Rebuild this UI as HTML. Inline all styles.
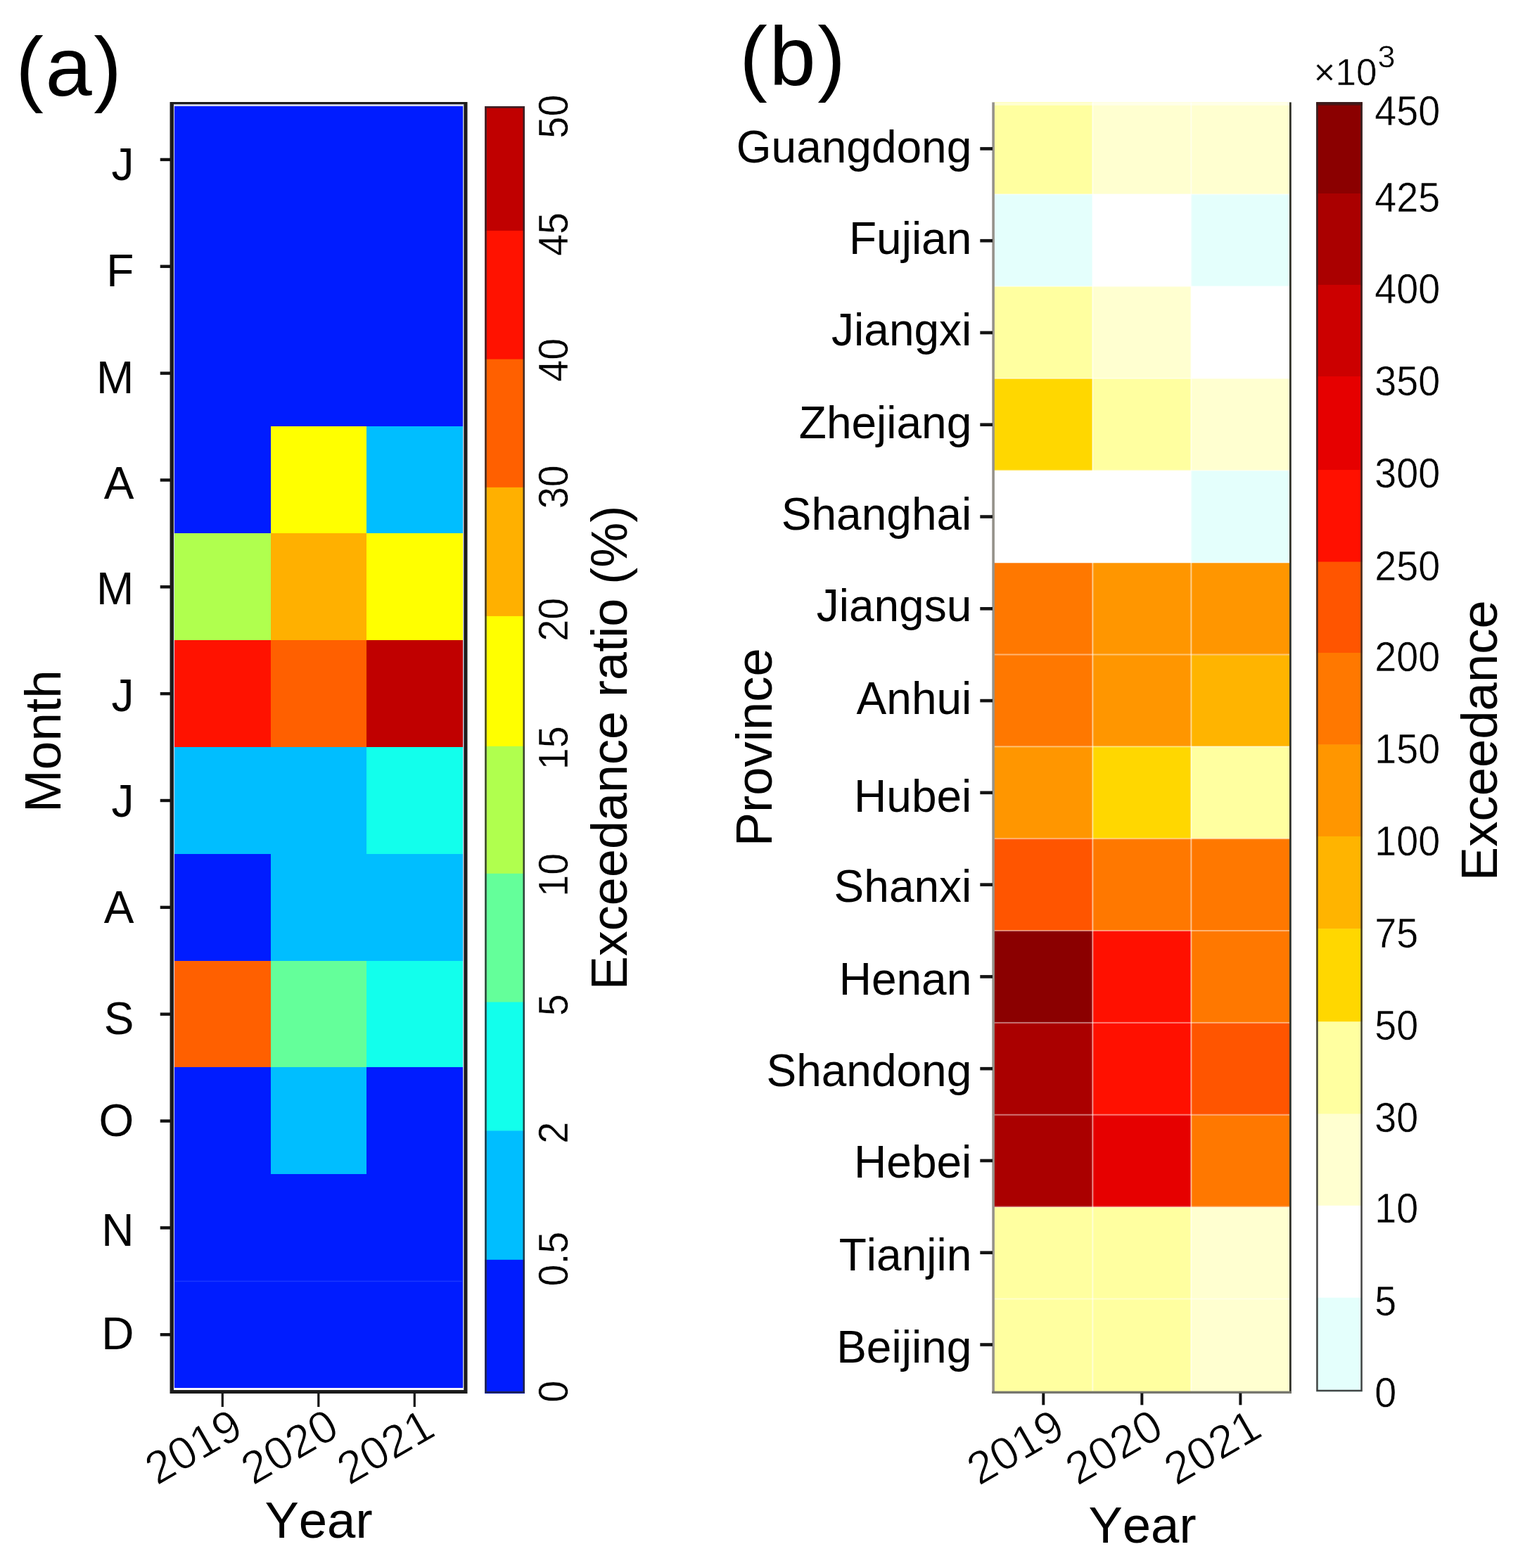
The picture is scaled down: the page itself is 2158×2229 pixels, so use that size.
<!DOCTYPE html>
<html lang="en">
<head>
<meta charset="utf-8">
<title>Exceedance heatmaps</title>
<style>
html, body { margin: 0; padding: 0; background: #ffffff; }
body { width: 2158px; height: 2229px; overflow: hidden; }
svg { display: block; }
svg text { font-family: "Liberation Sans", sans-serif; fill: #000000; font-kerning: none; paint-order: fill stroke; }
svg text.tk { stroke: #ffffff; stroke-width: 0.5px; }
svg text.xt { stroke: #ffffff; stroke-width: 1px; }
</style>
</head>
<body>
<svg width="2158" height="2229" viewBox="0 0 2158 2229">
<rect x="0" y="0" width="2158" height="2229" fill="#ffffff"/>
<g id="panel-a">
<rect x="241.50" y="145.00" width="423.00" height="1836.00" fill="#1c1c1c" />
<rect x="246.90" y="148.20" width="412.50" height="1827.80" fill="#d4d8ee" />
<rect x="247.50" y="1972.00" width="411.50" height="4.00" fill="#f7f8ff" />
<g shape-rendering="crispEdges">
<rect x="248.30" y="150.90" width="136.73" height="152.33" fill="#001cff" />
<rect x="384.53" y="150.90" width="136.73" height="152.33" fill="#001cff" />
<rect x="520.77" y="150.90" width="136.73" height="152.33" fill="#001cff" />
<rect x="248.30" y="302.73" width="136.73" height="152.33" fill="#001cff" />
<rect x="384.53" y="302.73" width="136.73" height="152.33" fill="#001cff" />
<rect x="520.77" y="302.73" width="136.73" height="152.33" fill="#001cff" />
<rect x="248.30" y="454.57" width="136.73" height="152.33" fill="#001cff" />
<rect x="384.53" y="454.57" width="136.73" height="152.33" fill="#001cff" />
<rect x="520.77" y="454.57" width="136.73" height="152.33" fill="#001cff" />
<rect x="248.30" y="606.40" width="136.73" height="152.33" fill="#001cff" />
<rect x="384.53" y="606.40" width="136.73" height="152.33" fill="#ffff00" />
<rect x="520.77" y="606.40" width="136.73" height="152.33" fill="#00beff" />
<rect x="248.30" y="758.23" width="136.73" height="152.33" fill="#b0ff4e" />
<rect x="384.53" y="758.23" width="136.73" height="152.33" fill="#ffb000" />
<rect x="520.77" y="758.23" width="136.73" height="152.33" fill="#ffff00" />
<rect x="248.30" y="910.07" width="136.73" height="152.33" fill="#ff1200" />
<rect x="384.53" y="910.07" width="136.73" height="152.33" fill="#ff6000" />
<rect x="520.77" y="910.07" width="136.73" height="152.33" fill="#c00000" />
<rect x="248.30" y="1061.90" width="136.73" height="152.33" fill="#00beff" />
<rect x="384.53" y="1061.90" width="136.73" height="152.33" fill="#00beff" />
<rect x="520.77" y="1061.90" width="136.73" height="152.33" fill="#12ffec" />
<rect x="248.30" y="1213.73" width="136.73" height="152.33" fill="#001cff" />
<rect x="384.53" y="1213.73" width="136.73" height="152.33" fill="#00beff" />
<rect x="520.77" y="1213.73" width="136.73" height="152.33" fill="#00beff" />
<rect x="248.30" y="1365.57" width="136.73" height="152.33" fill="#ff6000" />
<rect x="384.53" y="1365.57" width="136.73" height="152.33" fill="#64ff9a" />
<rect x="520.77" y="1365.57" width="136.73" height="152.33" fill="#12ffec" />
<rect x="248.30" y="1517.40" width="136.73" height="152.33" fill="#001cff" />
<rect x="384.53" y="1517.40" width="136.73" height="152.33" fill="#00beff" />
<rect x="520.77" y="1517.40" width="136.73" height="152.33" fill="#001cff" />
<rect x="248.30" y="1669.23" width="136.73" height="152.33" fill="#001cff" />
<rect x="384.53" y="1669.23" width="136.73" height="152.33" fill="#001cff" />
<rect x="520.77" y="1669.23" width="136.73" height="152.33" fill="#001cff" />
<rect x="248.30" y="1821.07" width="136.73" height="152.33" fill="#001cff" />
<rect x="384.53" y="1821.07" width="136.73" height="152.33" fill="#001cff" />
<rect x="520.77" y="1821.07" width="136.73" height="152.33" fill="#001cff" />
</g>
<rect x="248.30" y="1820.60" width="408.70" height="1.60" fill="#4a63ff" fill-opacity="0.35"/>
<rect x="227.70" y="224.70" width="14.30" height="4.40" fill="#111" />
<text x="190.40" y="255.50" font-size="64" text-anchor="end" >J</text>
<rect x="227.70" y="376.55" width="14.30" height="4.40" fill="#111" />
<text x="190.40" y="406.80" font-size="64" text-anchor="end" >F</text>
<rect x="227.70" y="528.40" width="14.30" height="4.40" fill="#111" />
<text x="190.40" y="559.30" font-size="64" text-anchor="end" >M</text>
<rect x="227.70" y="680.25" width="14.30" height="4.40" fill="#111" />
<text x="190.40" y="709.40" font-size="64" text-anchor="end" >A</text>
<rect x="227.70" y="832.10" width="14.30" height="4.40" fill="#111" />
<text x="190.40" y="859.40" font-size="64" text-anchor="end" >M</text>
<rect x="227.70" y="983.95" width="14.30" height="4.40" fill="#111" />
<text x="190.40" y="1011.20" font-size="64" text-anchor="end" >J</text>
<rect x="227.70" y="1135.80" width="14.30" height="4.40" fill="#111" />
<text x="190.40" y="1161.40" font-size="64" text-anchor="end" >J</text>
<rect x="227.70" y="1287.65" width="14.30" height="4.40" fill="#111" />
<text x="190.40" y="1312.30" font-size="64" text-anchor="end" >A</text>
<rect x="227.70" y="1439.50" width="14.30" height="4.40" fill="#111" />
<text x="190.40" y="1469.50" font-size="64" text-anchor="end" >S</text>
<rect x="227.70" y="1591.35" width="14.30" height="4.40" fill="#111" />
<text x="190.40" y="1615.00" font-size="64" text-anchor="end" >O</text>
<rect x="227.70" y="1743.20" width="14.30" height="4.40" fill="#111" />
<text x="190.40" y="1770.70" font-size="64" text-anchor="end" >N</text>
<rect x="227.70" y="1895.05" width="14.30" height="4.40" fill="#111" />
<text x="190.40" y="1917.80" font-size="64" text-anchor="end" >D</text>
<rect x="314.70" y="1980.50" width="3.20" height="19.50" fill="#111" />
<text x="348.90" y="2039.70" font-size="65.2" text-anchor="end" transform="rotate(-30 348.90 2039.70)" class="xt">2019</text>
<rect x="451.20" y="1980.50" width="3.20" height="19.50" fill="#111" />
<text x="485.40" y="2039.70" font-size="65.2" text-anchor="end" transform="rotate(-30 485.40 2039.70)" class="xt">2020</text>
<rect x="587.70" y="1980.50" width="3.20" height="19.50" fill="#111" />
<text x="621.90" y="2039.70" font-size="65.2" text-anchor="end" transform="rotate(-30 621.90 2039.70)" class="xt">2021</text>
<text x="453.00" y="2186.40" font-size="72.5" text-anchor="middle" >Year</text>
<text x="86.00" y="1053.50" font-size="73" text-anchor="middle" transform="rotate(-90 86.00 1053.50)" >Month</text>
<text x="22.20" y="135.50" font-size="119" text-anchor="start" letter-spacing="2.6">(a)</text>
<rect x="689.20" y="151.00" width="56.80" height="177.40" fill="#c00000" />
<rect x="689.20" y="327.90" width="56.80" height="183.20" fill="#ff1200" />
<rect x="689.20" y="510.60" width="56.80" height="182.70" fill="#ff6000" />
<rect x="689.20" y="692.80" width="56.80" height="183.60" fill="#ffb000" />
<rect x="689.20" y="875.90" width="56.80" height="185.40" fill="#ffff00" />
<rect x="689.20" y="1060.80" width="56.80" height="181.50" fill="#b0ff4e" />
<rect x="689.20" y="1241.80" width="56.80" height="183.20" fill="#64ff9a" />
<rect x="689.20" y="1424.50" width="56.80" height="183.40" fill="#12ffec" />
<rect x="689.20" y="1607.40" width="56.80" height="183.90" fill="#00beff" />
<rect x="689.20" y="1790.80" width="56.80" height="190.20" fill="#001cff" />
<rect x="690.50" y="152.30" width="54.20" height="1826.90" fill="none" stroke="#26262c" stroke-opacity="0.85" stroke-width="2.6"/>
<text x="806.60" y="165.60" font-size="59.6" text-anchor="middle" transform="rotate(-90 806.60 165.60)" class="tk" textLength="62.1" lengthAdjust="spacingAndGlyphs">50</text>
<text x="806.60" y="333.00" font-size="59.6" text-anchor="middle" transform="rotate(-90 806.60 333.00)" class="tk" textLength="62.1" lengthAdjust="spacingAndGlyphs">45</text>
<text x="806.60" y="511.80" font-size="59.6" text-anchor="middle" transform="rotate(-90 806.60 511.80)" class="tk" textLength="62.1" lengthAdjust="spacingAndGlyphs">40</text>
<text x="806.60" y="692.30" font-size="59.6" text-anchor="middle" transform="rotate(-90 806.60 692.30)" class="tk" textLength="62.1" lengthAdjust="spacingAndGlyphs">30</text>
<text x="806.60" y="880.80" font-size="59.6" text-anchor="middle" transform="rotate(-90 806.60 880.80)" class="tk" textLength="62.1" lengthAdjust="spacingAndGlyphs">20</text>
<text x="806.60" y="1063.30" font-size="59.6" text-anchor="middle" transform="rotate(-90 806.60 1063.30)" class="tk" textLength="62.1" lengthAdjust="spacingAndGlyphs">15</text>
<text x="806.60" y="1243.80" font-size="59.6" text-anchor="middle" transform="rotate(-90 806.60 1243.80)" class="tk" textLength="62.1" lengthAdjust="spacingAndGlyphs">10</text>
<text x="806.60" y="1428.80" font-size="59.6" text-anchor="middle" transform="rotate(-90 806.60 1428.80)" class="tk" textLength="31.1" lengthAdjust="spacingAndGlyphs">5</text>
<text x="806.60" y="1610.10" font-size="59.6" text-anchor="middle" transform="rotate(-90 806.60 1610.10)" class="tk" textLength="31.1" lengthAdjust="spacingAndGlyphs">2</text>
<text x="806.60" y="1789.60" font-size="59.6" text-anchor="middle" transform="rotate(-90 806.60 1789.60)" class="tk" textLength="77.6" lengthAdjust="spacingAndGlyphs">0.5</text>
<text x="806.60" y="1978.10" font-size="59.6" text-anchor="middle" transform="rotate(-90 806.60 1978.10)" class="tk" textLength="31.1" lengthAdjust="spacingAndGlyphs">0</text>
<text x="890.90" y="1063.00" font-size="72" text-anchor="middle" transform="rotate(-90 890.90 1063.00)" >Exceedance ratio (%)</text>
</g>
<g id="panel-b">
<g shape-rendering="crispEdges">
<rect x="1413.30" y="145.40" width="140.53" height="131.35" fill="#ffffa0" />
<rect x="1553.33" y="145.40" width="140.53" height="131.35" fill="#ffffd0" />
<rect x="1693.37" y="145.40" width="140.53" height="131.35" fill="#ffffd0" />
<rect x="1413.30" y="276.25" width="140.53" height="131.35" fill="#e4fffc" />
<rect x="1553.33" y="276.25" width="140.53" height="131.35" fill="#ffffff" />
<rect x="1693.37" y="276.25" width="140.53" height="131.35" fill="#e4fffc" />
<rect x="1413.30" y="407.10" width="140.53" height="131.35" fill="#ffffa0" />
<rect x="1553.33" y="407.10" width="140.53" height="131.35" fill="#ffffd0" />
<rect x="1693.37" y="407.10" width="140.53" height="131.35" fill="#ffffff" />
<rect x="1413.30" y="537.95" width="140.53" height="131.35" fill="#ffd700" />
<rect x="1553.33" y="537.95" width="140.53" height="131.35" fill="#ffffa0" />
<rect x="1693.37" y="537.95" width="140.53" height="131.35" fill="#ffffd0" />
<rect x="1413.30" y="668.80" width="140.53" height="131.35" fill="#ffffff" />
<rect x="1553.33" y="668.80" width="140.53" height="131.35" fill="#ffffff" />
<rect x="1693.37" y="668.80" width="140.53" height="131.35" fill="#e4fffc" />
<rect x="1413.30" y="799.65" width="140.53" height="131.35" fill="#ff7800" />
<rect x="1553.33" y="799.65" width="140.53" height="131.35" fill="#ff9600" />
<rect x="1693.37" y="799.65" width="140.53" height="131.35" fill="#ff9600" />
<rect x="1413.30" y="930.50" width="140.53" height="131.35" fill="#ff7800" />
<rect x="1553.33" y="930.50" width="140.53" height="131.35" fill="#ff9600" />
<rect x="1693.37" y="930.50" width="140.53" height="131.35" fill="#ffb400" />
<rect x="1413.30" y="1061.35" width="140.53" height="131.35" fill="#ff9600" />
<rect x="1553.33" y="1061.35" width="140.53" height="131.35" fill="#ffd700" />
<rect x="1693.37" y="1061.35" width="140.53" height="131.35" fill="#ffffa0" />
<rect x="1413.30" y="1192.20" width="140.53" height="131.35" fill="#ff5500" />
<rect x="1553.33" y="1192.20" width="140.53" height="131.35" fill="#ff7800" />
<rect x="1693.37" y="1192.20" width="140.53" height="131.35" fill="#ff7800" />
<rect x="1413.30" y="1323.05" width="140.53" height="131.35" fill="#8b0000" />
<rect x="1553.33" y="1323.05" width="140.53" height="131.35" fill="#ff1000" />
<rect x="1693.37" y="1323.05" width="140.53" height="131.35" fill="#ff7800" />
<rect x="1413.30" y="1453.90" width="140.53" height="131.35" fill="#aa0000" />
<rect x="1553.33" y="1453.90" width="140.53" height="131.35" fill="#ff1000" />
<rect x="1693.37" y="1453.90" width="140.53" height="131.35" fill="#ff5500" />
<rect x="1413.30" y="1584.75" width="140.53" height="131.35" fill="#aa0000" />
<rect x="1553.33" y="1584.75" width="140.53" height="131.35" fill="#e60000" />
<rect x="1693.37" y="1584.75" width="140.53" height="131.35" fill="#ff7800" />
<rect x="1413.30" y="1715.60" width="140.53" height="131.35" fill="#ffffa0" />
<rect x="1553.33" y="1715.60" width="140.53" height="131.35" fill="#ffffa0" />
<rect x="1693.37" y="1715.60" width="140.53" height="131.35" fill="#ffffd0" />
<rect x="1413.30" y="1846.45" width="140.53" height="131.35" fill="#ffffa0" />
<rect x="1553.33" y="1846.45" width="140.53" height="131.35" fill="#ffffa0" />
<rect x="1693.37" y="1846.45" width="140.53" height="131.35" fill="#ffffd0" />
</g>
<rect x="1552.33" y="145.40" width="2.00" height="1831.90" fill="#ffffff" fill-opacity="0.55"/>
<rect x="1692.37" y="145.40" width="2.00" height="1831.90" fill="#ffffff" fill-opacity="0.55"/>
<rect x="1413.30" y="275.25" width="420.10" height="2.00" fill="#ffffff" fill-opacity="0.45"/>
<rect x="1413.30" y="406.10" width="420.10" height="2.00" fill="#ffffff" fill-opacity="0.45"/>
<rect x="1413.30" y="536.95" width="420.10" height="2.00" fill="#ffffff" fill-opacity="0.45"/>
<rect x="1413.30" y="667.80" width="420.10" height="2.00" fill="#ffffff" fill-opacity="0.45"/>
<rect x="1413.30" y="798.65" width="420.10" height="2.00" fill="#ffffff" fill-opacity="0.45"/>
<rect x="1413.30" y="929.50" width="420.10" height="2.00" fill="#ffffff" fill-opacity="0.45"/>
<rect x="1413.30" y="1060.35" width="420.10" height="2.00" fill="#ffffff" fill-opacity="0.45"/>
<rect x="1413.30" y="1191.20" width="420.10" height="2.00" fill="#ffffff" fill-opacity="0.45"/>
<rect x="1413.30" y="1322.05" width="420.10" height="2.00" fill="#ffffff" fill-opacity="0.45"/>
<rect x="1413.30" y="1452.90" width="420.10" height="2.00" fill="#ffffff" fill-opacity="0.45"/>
<rect x="1413.30" y="1583.75" width="420.10" height="2.00" fill="#ffffff" fill-opacity="0.45"/>
<rect x="1413.30" y="1714.60" width="420.10" height="2.00" fill="#ffffff" fill-opacity="0.45"/>
<rect x="1413.30" y="1845.45" width="420.10" height="2.00" fill="#ffffff" fill-opacity="0.45"/>
<rect x="1413.30" y="145.40" width="420.10" height="4.50" fill="#ffffff" fill-opacity="0.5"/>
<rect x="1410.30" y="145.40" width="3.60" height="1835.60" fill="#95928a" />
<rect x="1833.00" y="145.40" width="2.80" height="1835.60" fill="#33332a" />
<rect x="1410.20" y="1977.60" width="425.60" height="3.40" fill="#77776f" />
<rect x="1393.30" y="209.10" width="17.70" height="4.60" fill="#141414" />
<text x="1381.30" y="230.50" font-size="64" text-anchor="end" >Guangdong</text>
<rect x="1393.30" y="339.88" width="17.70" height="4.60" fill="#141414" />
<text x="1381.30" y="360.70" font-size="64" text-anchor="end" >Fujian</text>
<rect x="1393.30" y="470.65" width="17.70" height="4.60" fill="#141414" />
<text x="1381.30" y="491.40" font-size="64" text-anchor="end" >Jiangxi</text>
<rect x="1393.30" y="601.43" width="17.70" height="4.60" fill="#141414" />
<text x="1381.30" y="622.70" font-size="64" text-anchor="end" >Zhejiang</text>
<rect x="1393.30" y="732.21" width="17.70" height="4.60" fill="#141414" />
<text x="1381.30" y="753.40" font-size="64" text-anchor="end" >Shanghai</text>
<rect x="1393.30" y="862.98" width="17.70" height="4.60" fill="#141414" />
<text x="1381.30" y="883.30" font-size="64" text-anchor="end" >Jiangsu</text>
<rect x="1393.30" y="993.76" width="17.70" height="4.60" fill="#141414" />
<text x="1381.30" y="1015.00" font-size="64" text-anchor="end" >Anhui</text>
<rect x="1393.30" y="1124.54" width="17.70" height="4.60" fill="#141414" />
<text x="1381.30" y="1154.00" font-size="64" text-anchor="end" >Hubei</text>
<rect x="1393.30" y="1255.32" width="17.70" height="4.60" fill="#141414" />
<text x="1381.30" y="1282.00" font-size="64" text-anchor="end" >Shanxi</text>
<rect x="1393.30" y="1386.09" width="17.70" height="4.60" fill="#141414" />
<text x="1381.30" y="1413.90" font-size="64" text-anchor="end" >Henan</text>
<rect x="1393.30" y="1516.87" width="17.70" height="4.60" fill="#141414" />
<text x="1381.30" y="1543.80" font-size="64" text-anchor="end" >Shandong</text>
<rect x="1393.30" y="1647.65" width="17.70" height="4.60" fill="#141414" />
<text x="1381.30" y="1674.40" font-size="64" text-anchor="end" >Hebei</text>
<rect x="1393.30" y="1778.42" width="17.70" height="4.60" fill="#141414" />
<text x="1381.30" y="1805.50" font-size="64" text-anchor="end" >Tianjin</text>
<rect x="1393.30" y="1909.20" width="17.70" height="4.60" fill="#141414" />
<text x="1381.30" y="1936.60" font-size="64" text-anchor="end" >Beijing</text>
<rect x="1481.30" y="1980.50" width="4.00" height="16.80" fill="#111" />
<text x="1517.40" y="2040.20" font-size="65.2" text-anchor="end" transform="rotate(-30 1517.40 2040.20)" class="xt">2019</text>
<rect x="1621.35" y="1980.50" width="4.00" height="16.80" fill="#111" />
<text x="1657.45" y="2040.20" font-size="65.2" text-anchor="end" transform="rotate(-30 1657.45 2040.20)" class="xt">2020</text>
<rect x="1761.40" y="1980.50" width="4.00" height="16.80" fill="#111" />
<text x="1797.50" y="2040.20" font-size="65.2" text-anchor="end" transform="rotate(-30 1797.50 2040.20)" class="xt">2021</text>
<text x="1624.00" y="2193.30" font-size="72.5" text-anchor="middle" >Year</text>
<text x="1096.70" y="1062.20" font-size="72.5" text-anchor="middle" transform="rotate(-90 1096.70 1062.20)" >Province</text>
<text x="1051.20" y="120.50" font-size="119" text-anchor="start" letter-spacing="2.6">(b)</text>
<rect x="1871.20" y="145.20" width="65.60" height="130.30" fill="#8b0000" />
<rect x="1871.20" y="275.00" width="65.60" height="130.40" fill="#aa0000" />
<rect x="1871.20" y="404.90" width="65.60" height="130.60" fill="#cc0000" />
<rect x="1871.20" y="535.00" width="65.60" height="133.40" fill="#e60000" />
<rect x="1871.20" y="667.90" width="65.60" height="131.20" fill="#ff1000" />
<rect x="1871.20" y="798.60" width="65.60" height="129.90" fill="#ff5500" />
<rect x="1871.20" y="928.00" width="65.60" height="130.90" fill="#ff7800" />
<rect x="1871.20" y="1058.40" width="65.60" height="131.00" fill="#ff9600" />
<rect x="1871.20" y="1188.90" width="65.60" height="131.80" fill="#ffb400" />
<rect x="1871.20" y="1320.20" width="65.60" height="132.60" fill="#ffd700" />
<rect x="1871.20" y="1452.30" width="65.60" height="131.60" fill="#ffffa0" />
<rect x="1871.20" y="1583.40" width="65.60" height="130.90" fill="#ffffd0" />
<rect x="1871.20" y="1713.80" width="65.60" height="131.40" fill="#ffffff" />
<rect x="1871.20" y="1844.70" width="65.60" height="134.00" fill="#e4fffc" />
<rect x="1872.45" y="146.45" width="63.10" height="1830.50" fill="none" stroke="#2a2a2a" stroke-opacity="0.88" stroke-width="2.5"/>
<rect x="1871.20" y="145.20" width="65.60" height="4.60" fill="#3a1a1a" fill-opacity="0.75"/>
<text x="1954.30" y="178.00" font-size="58.6" text-anchor="start" class="tk" textLength="93.1" lengthAdjust="spacingAndGlyphs">450</text>
<text x="1954.30" y="300.80" font-size="58.6" text-anchor="start" class="tk" textLength="93.1" lengthAdjust="spacingAndGlyphs">425</text>
<text x="1954.30" y="431.10" font-size="58.6" text-anchor="start" class="tk" textLength="93.1" lengthAdjust="spacingAndGlyphs">400</text>
<text x="1954.30" y="562.00" font-size="58.6" text-anchor="start" class="tk" textLength="93.1" lengthAdjust="spacingAndGlyphs">350</text>
<text x="1954.30" y="692.70" font-size="58.6" text-anchor="start" class="tk" textLength="93.1" lengthAdjust="spacingAndGlyphs">300</text>
<text x="1954.30" y="824.60" font-size="58.6" text-anchor="start" class="tk" textLength="93.1" lengthAdjust="spacingAndGlyphs">250</text>
<text x="1954.30" y="954.20" font-size="58.6" text-anchor="start" class="tk" textLength="93.1" lengthAdjust="spacingAndGlyphs">200</text>
<text x="1954.30" y="1084.90" font-size="58.6" text-anchor="start" class="tk" textLength="93.1" lengthAdjust="spacingAndGlyphs">150</text>
<text x="1954.30" y="1215.50" font-size="58.6" text-anchor="start" class="tk" textLength="93.1" lengthAdjust="spacingAndGlyphs">100</text>
<text x="1954.30" y="1346.90" font-size="58.6" text-anchor="start" class="tk" textLength="62.1" lengthAdjust="spacingAndGlyphs">75</text>
<text x="1954.30" y="1477.60" font-size="58.6" text-anchor="start" class="tk" textLength="62.1" lengthAdjust="spacingAndGlyphs">50</text>
<text x="1954.30" y="1608.60" font-size="58.6" text-anchor="start" class="tk" textLength="62.1" lengthAdjust="spacingAndGlyphs">30</text>
<text x="1954.30" y="1738.30" font-size="58.6" text-anchor="start" class="tk" textLength="62.1" lengthAdjust="spacingAndGlyphs">10</text>
<text x="1954.30" y="1870.20" font-size="58.6" text-anchor="start" class="tk" textLength="31.0" lengthAdjust="spacingAndGlyphs">5</text>
<text x="1954.30" y="2000.30" font-size="58.6" text-anchor="start" class="tk" textLength="31.0" lengthAdjust="spacingAndGlyphs">0</text>
<text x="2128.20" y="1052.70" font-size="72.5" text-anchor="middle" transform="rotate(-90 2128.20 1052.70)" >Exceedance</text>
<text class="tk" x="1867.5" y="120.6" font-size="53">×10<tspan dy="-24.5" dx="1" font-size="45">3</tspan></text>
</g>
</svg>
</body>
</html>
